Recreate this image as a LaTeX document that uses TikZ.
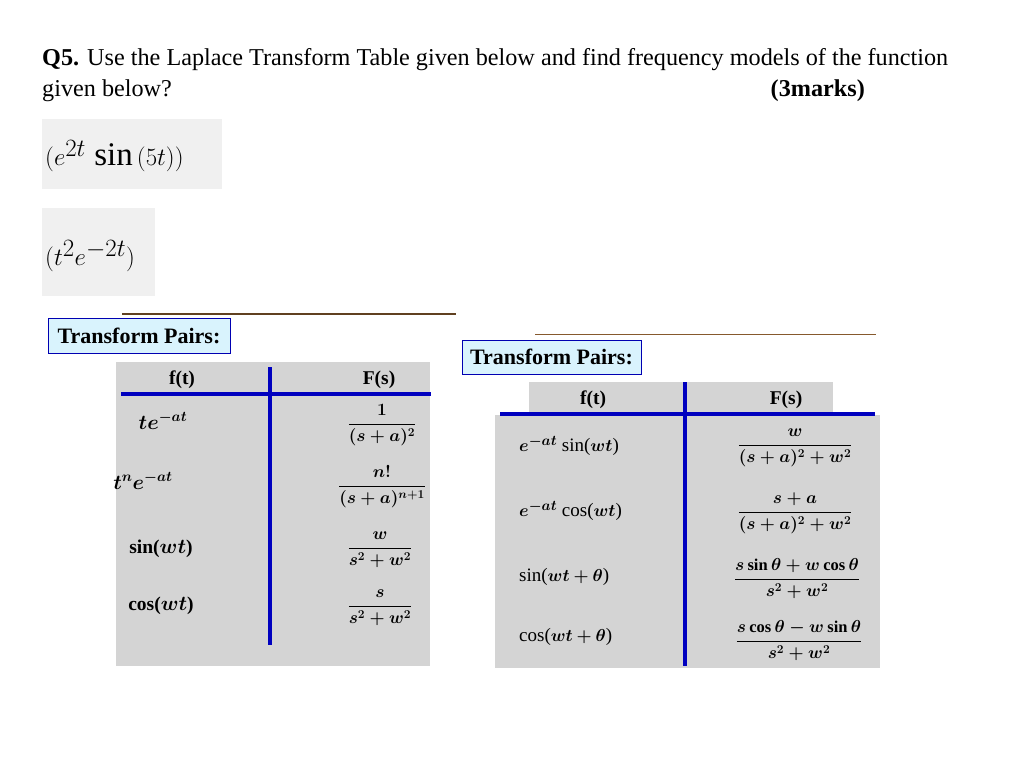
\documentclass[tikz,border=0pt]{standalone}
\usepackage{amsmath,bm}
\usepackage{fontspec}
\setmainfont{Liberation Serif}
\begin{document}
\begin{tikzpicture}[x=1pt,y=-1pt,
  q/.style={anchor=base west,font=\fontsize{24.2}{28}\selectfont,inner sep=0},
  tp/.style={draw=blue!70!black,fill=cyan!15,line width=1pt,font=\fontsize{22}{24}\selectfont\bfseries,inner sep=0,anchor=center},
  tx/.style={font=\fontsize{19.5}{22}\selectfont\bfseries\boldmath,inner sep=0},
  tn/.style={font=\fontsize{19}{22}\selectfont,inner sep=0},
  fr/.style={font=\fontsize{16.5}{19}\selectfont\boldmath,inner sep=0},
  bl/.style={draw=blue!75!black,line width=4pt}]
\useasboundingbox (0,0) rectangle (1024,769);
\fill[white] (0,0) rectangle (1024,769);
\node[q] (q1) at (42,65) {\textbf{Q5.} Use the Laplace Transform Table given below and find frequency models of the function};
\node[q] (q2) at (42,96) {given below?};
\node[q,anchor=base east] (q3) at (865,96) {\textbf{(3marks)}};
\fill[black!6] (42,119) rectangle (222,189);
\node[font=\fontsize{33}{36}\selectfont,anchor=west,inner sep=0] (f1) at (45,156) {$(e^{2t}\,\sin{(5t)})$};
\fill[black!6] (42,208) rectangle (155,296);
\node[font=\fontsize{33}{36}\selectfont,anchor=west,inner sep=0] (f2) at (45,256) {$(t^2e^{-2t})$};
\draw[draw=brown!50!black,line width=2pt] (122,314) -- (456,314);
\draw[draw=brown!70!black,line width=1pt] (535,334) -- (876,334);
% table 1
\node[tp,minimum width=182,minimum height=35] (tp1) at (139,335.5) {Transform Pairs:};
\fill[black!17] (116,362) rectangle (430,666);
\draw[bl] (121,394) -- (431,394);
\draw[bl] (270,367) -- (270,645);
\node[tx] (h1) at (182,380) {f(t)};
\node[tx] (h2) at (379,380) {F(s)};
\node[tx] (a1) at (163,421) {$te^{-at}$};
\node[fr] (b1) at (382,425) {$\displaystyle\frac{1}{(s+a)^2}$};
\node[tx] (a2) at (143,481) {$t^ne^{-at}$};
\node[fr] (b2) at (382,487) {$\displaystyle\frac{n!}{(s+a)^{n+1}}$};
\node[tx] (a3) at (161,549) {sin($wt$)};
\node[fr] (b3) at (380,550) {$\displaystyle\frac{w}{s^2+w^2}$};
\node[tx] (a4) at (161,606) {cos($wt$)};
\node[fr] (b4) at (380,608) {$\displaystyle\frac{s}{s^2+w^2}$};
% table 2
\node[tp,minimum width=179,minimum height=34] (tp2) at (551.5,357) {Transform Pairs:};
\fill[black!17] (529,382) rectangle (833,415);
\fill[black!17] (495,415) rectangle (880,668);
\draw[bl] (500,414) -- (875,414);
\draw[bl] (685,382) -- (685,666);
\node[tx] (g1) at (593,400) {f(t)};
\node[tx] (g2) at (786,400) {F(s)};
\node[tn,anchor=west] (c1) at (519,446) {$\bm{e^{-at}}$ sin($\bm{wt}$)};
\node[fr] (d1) at (795,448) {$\displaystyle\frac{w}{(s+a)^2+w^2}$};
\node[tn,anchor=west] (c2) at (519,511) {$\bm{e^{-at}}$ cos($\bm{wt}$)};
\node[fr] (d2) at (795,513) {$\displaystyle\frac{s+a}{(s+a)^2+w^2}$};
\node[tn,anchor=west] (c3) at (519,577) {sin($\bm{wt+\theta}$)};
\node[fr] (d3) at (797,579) {$\displaystyle\frac{s\sin\theta+w\cos\theta}{s^2+w^2}$};
\node[tn,anchor=west] (c4) at (519,637) {cos($\bm{wt+\theta}$)};
\node[fr] (d4) at (799,641) {$\displaystyle\frac{s\cos\theta-w\sin\theta}{s^2+w^2}$};
\end{tikzpicture}
\end{document}
